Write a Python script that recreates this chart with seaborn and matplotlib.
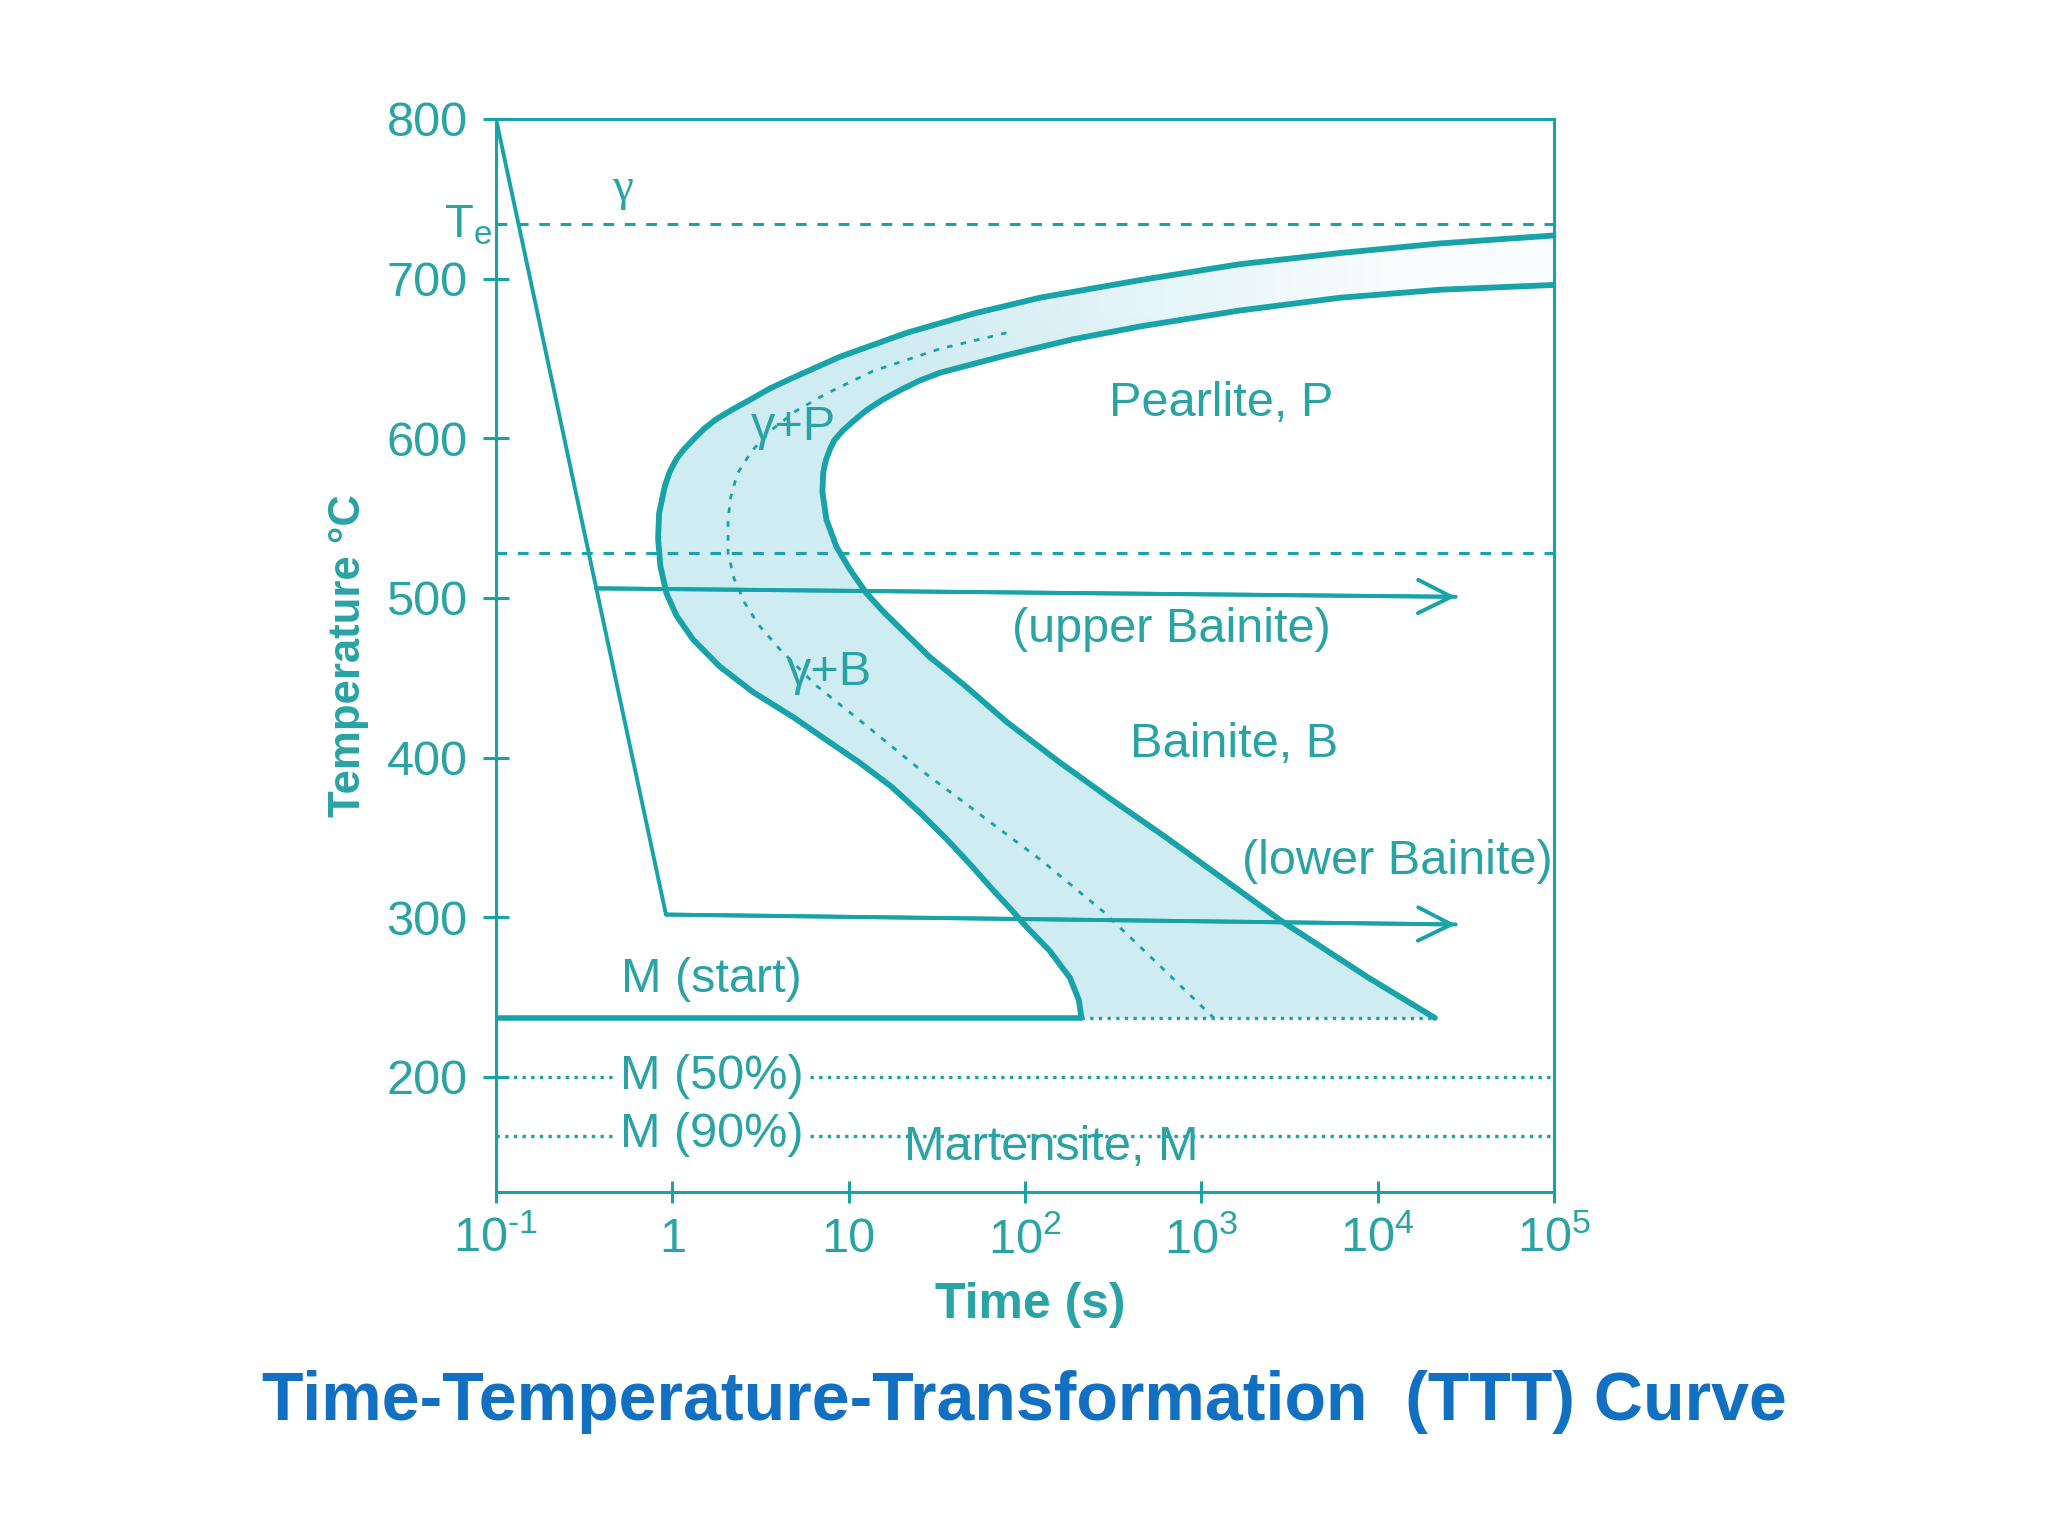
import numpy as np
import matplotlib
matplotlib.use('Agg')
import matplotlib.pyplot as plt
import seaborn as sns
from matplotlib.patches import Polygon
from matplotlib.colors import to_rgb
from matplotlib.ticker import FixedLocator, FixedFormatter, NullLocator

# values: time in s, temperature in degC
# start of transformation (outer C-curve)
start_time = [100000, 22540, 6110, 1652, 448, 121.3, 50.8, 21.3, 8.91, 4.63, 3.55, 2.75, 2.19,
              1.778, 1.514, 1.309, 1.161, 1.054, 0.966, 0.906, 0.841, 0.830, 0.855, 0.925, 1.054,
              1.309, 1.858, 2.871, 4.90, 7.48, 11.48, 17.38, 25.1, 35.9, 49.0, 65.9, 83.2,
              101.9, 138, 180, 202, 208.9]
start_temp = [727, 722, 716, 709, 699, 688, 678, 666, 651, 637, 631, 624, 618,
              612, 606, 599, 593, 587, 579, 570, 553, 537, 520, 503, 489,
              474, 457, 441, 425, 411, 397, 382, 366, 349, 333, 317, 305,
              294, 279, 262, 248, 237]

# end of transformation (inner C-curve)
finish_time = [100000, 22540, 6110, 1652, 448, 187.5, 78.5, 32.9, 25.1, 19.5, 15.5, 12.6, 10.7,
               9.29, 8.32, 7.82, 7.41, 7.16, 7.10, 7.48, 8.53, 10.14, 12.6, 15.85, 20.9,
               28.8, 45.7, 79.4, 157.4, 316, 631, 1259, 2818, 8913, 21090]
finish_temp = [696, 693, 688, 680, 670, 662, 652, 641, 636, 630, 624, 617.5, 611,
               605, 599, 593, 586, 578, 566, 549, 532, 518, 503, 491, 478,
               463, 445, 422, 397, 373, 350, 326, 298, 262, 237]

# 50 % transformed (dotted)
mid_time = [78.5, 32.9, 13.7, 7.48, 5.01, 3.63, 2.82, 2.34, 2.14, 2.07, 2.07, 2.24, 2.57, 3.09,
            4.06, 6.56, 12.6, 25.1, 56.2, 125.9, 281.8, 602.6, 1175]
mid_temp = [666, 656, 642, 628, 617, 605, 592, 578, 563, 549, 528, 512, 497, 483,
            468, 445, 420, 393, 364, 335, 303, 268, 237]

# cooling paths
lower_path_time = [0.1, 0.92, 27700]
lower_path_temp = [800, 301.7, 295.5]
upper_path_time = [0.37, 27700]
upper_path_temp = [506, 500.7]

te_temp = 734
bainite_line_temp = 528
ms_temp = 237
ms_end_time = 208.9
m50_temp = 200
m90_temp = 163
m_gap_time = [0.47, 6.0]   # gap in the dotted lines where the M labels sit

xtick_vals = [0.1, 1, 10, 100, 1000, 10000, 100000]
xtick_labels = ['$\\mathregular{10^{\u2010 1}}$', '1', '10', r'$\mathregular{10^{2}}$',
                r'$\mathregular{10^{3}}$', r'$\mathregular{10^{4}}$', r'$\mathregular{10^{5}}$']
ytick_vals = [200, 300, 400, 500, 600, 700, 800]

labels = ['γ+P', 'Pearlite, P', '(upper Bainite)', 'γ+B', 'Bainite, B', '(lower Bainite)',
          'M (start)', 'M (50%)', 'M (90%)', 'Martensite, M']
label_time = [4.85, 1290, 676, 7.8, 1530, 12900, 1.67, 1.67, 1.67, 140]
label_temp = [607, 622, 480, 453, 408, 335, 261, 200, 164, 156]
gamma_time, gamma_temp = 0.524, 756

teal = '#18a3a8'
text_teal = '#2aa3a5'
fill_color = '#cfecf2'
title_blue = '#1170c2'

sns.set_theme(style='white')
plt.rcParams['font.family'] = ['Liberation Sans', 'DejaVu Sans']
plt.rcParams['mathtext.fontset'] = 'custom'
plt.rcParams['mathtext.rm'] = 'Liberation Sans'
plt.rcParams['mathtext.it'] = 'Liberation Sans:italic'
plt.rcParams['mathtext.bf'] = 'Liberation Sans:bold'

fig = plt.figure(figsize=(20.48, 15.36), dpi=100)
pos = [0.2422, 0.224, 0.5166, 0.6986]

# background axes for the gradient fill of the transformation band
bg = fig.add_axes(pos, zorder=0)
bg.axis('off')
ax = fig.add_axes(pos, zorder=1)
ax.patch.set_alpha(0)
ax.set_xscale('log')
ax.set_xlim(0.1, 100000)
ax.set_ylim(128, 800)

gx, gy = np.meshgrid(np.linspace(0, 1, 300), np.linspace(0, 1, 300))
fade = np.clip((gx - 0.36) / 0.5, 0, 1) * np.clip((gy - 0.68) / 0.14, 0, 1) * 0.88
img = np.array(to_rgb(fill_color)) * (1 - fade[..., None]) + fade[..., None]
im = bg.imshow(img, extent=[0, 1, 0, 1], origin='lower', aspect='auto')
bg.set_xlim(0, 1)
bg.set_ylim(0, 1)
band = Polygon(np.column_stack([start_time + finish_time[::-1], start_temp + finish_temp[::-1]]),
               closed=True, transform=ax.transData, facecolor='none', edgecolor='none')
ax.add_patch(band)
im.set_clip_path(band)

# reference lines
ax.axhline(te_temp, color=teal, lw=2.2, ls=(0, (3.5, 3.5)))
ax.axhline(bainite_line_temp, color=teal, lw=2.2, ls=(0, (3.5, 3.5)))
for t in [m50_temp, m90_temp]:
    ax.plot([0.1, m_gap_time[0]], [t, t], color=teal, lw=2.4, ls=(0, (1, 1.6)))
    ax.plot([m_gap_time[1], 100000], [t, t], color=teal, lw=2.4, ls=(0, (1, 1.6)))
ax.plot([0.1, ms_end_time], [ms_temp, ms_temp], color=teal, lw=4, solid_capstyle='butt')
ax.plot([ms_end_time, finish_time[-1]], [ms_temp, ms_temp], color=teal, lw=2.4, ls=(0, (1, 1.6)))

# C-curves
sns.lineplot(x=start_time, y=start_temp, sort=False, estimator=None, color=teal, lw=4.2, ax=ax)
sns.lineplot(x=finish_time, y=finish_temp, sort=False, estimator=None, color=teal, lw=4.2, ax=ax)
sns.lineplot(x=mid_time, y=mid_temp, sort=False, estimator=None, color=teal, lw=2,
             linestyle=(0, (2, 3)), ax=ax)

# cooling paths with arrow heads
ax.plot(lower_path_time, lower_path_temp, color=teal, lw=2.8)
ax.plot(upper_path_time, upper_path_temp, color=teal, lw=2.8)
arrow = dict(arrowstyle='->,head_length=1.2,head_width=0.6', color=teal, lw=2.8, mutation_scale=20,
             shrinkA=0, shrinkB=0)
ax.annotate('', xy=(lower_path_time[-1], lower_path_temp[-1]),
            xytext=(lower_path_time[-2], lower_path_temp[-2]), arrowprops=arrow)
ax.annotate('', xy=(upper_path_time[-1], upper_path_temp[-1]),
            xytext=(upper_path_time[0], upper_path_temp[0]), arrowprops=arrow)

# region labels
for lab, t, T in zip(labels, label_time, label_temp):
    box = None
    if lab in ('M (50%)', 'M (90%)'):
        box = dict(facecolor='white', edgecolor='none', pad=1)
    ax.text(t, T, lab, ha='center', va='center', fontsize=35, color=text_teal, bbox=box)
ax.text(gamma_time, gamma_temp, 'γ', ha='center', va='center', fontsize=34, color=text_teal,
        family=['Liberation Serif', 'DejaVu Serif'])
ax.annotate(r'$\mathregular{T_e}$', xy=(0.1, te_temp), xytext=(-3, -1), textcoords='offset points',
            ha='right', va='center', fontsize=34, color=text_teal, annotation_clip=False)

# axes styling
for s in ax.spines.values():
    s.set_color(teal)
    s.set_linewidth(2.2)
ax.xaxis.set_major_locator(FixedLocator(xtick_vals))
ax.xaxis.set_major_formatter(FixedFormatter(xtick_labels))
ax.xaxis.set_minor_locator(NullLocator())
ax.set_yticks(ytick_vals)
ax.tick_params(axis='y', left=True, direction='inout', length=19, width=2.2, color=teal,
               labelcolor=text_teal, labelsize=35, pad=11)
ax.tick_params(axis='x', bottom=True, direction='inout', length=16, width=2.2, color=teal,
               labelcolor=text_teal, labelsize=35, pad=10)

ax.set_ylabel('Temperature °C', fontsize=31.5, fontweight='bold', color=text_teal)
ax.yaxis.set_label_coords(-0.12, 0.5)
ax.set_xlabel('Time (s)', fontsize=36, fontweight='bold', color=text_teal)
ax.xaxis.set_label_coords(0.505, -0.105)
ax.xaxis.label.set_va('center')

fig.text(0.5, 0.087, 'Time-Temperature-Transformation  (TTT) Curve', ha='center', va='center',
         fontsize=49, fontweight='bold', color=title_blue)

fig.savefig('out.png', dpi=100, facecolor='white')
